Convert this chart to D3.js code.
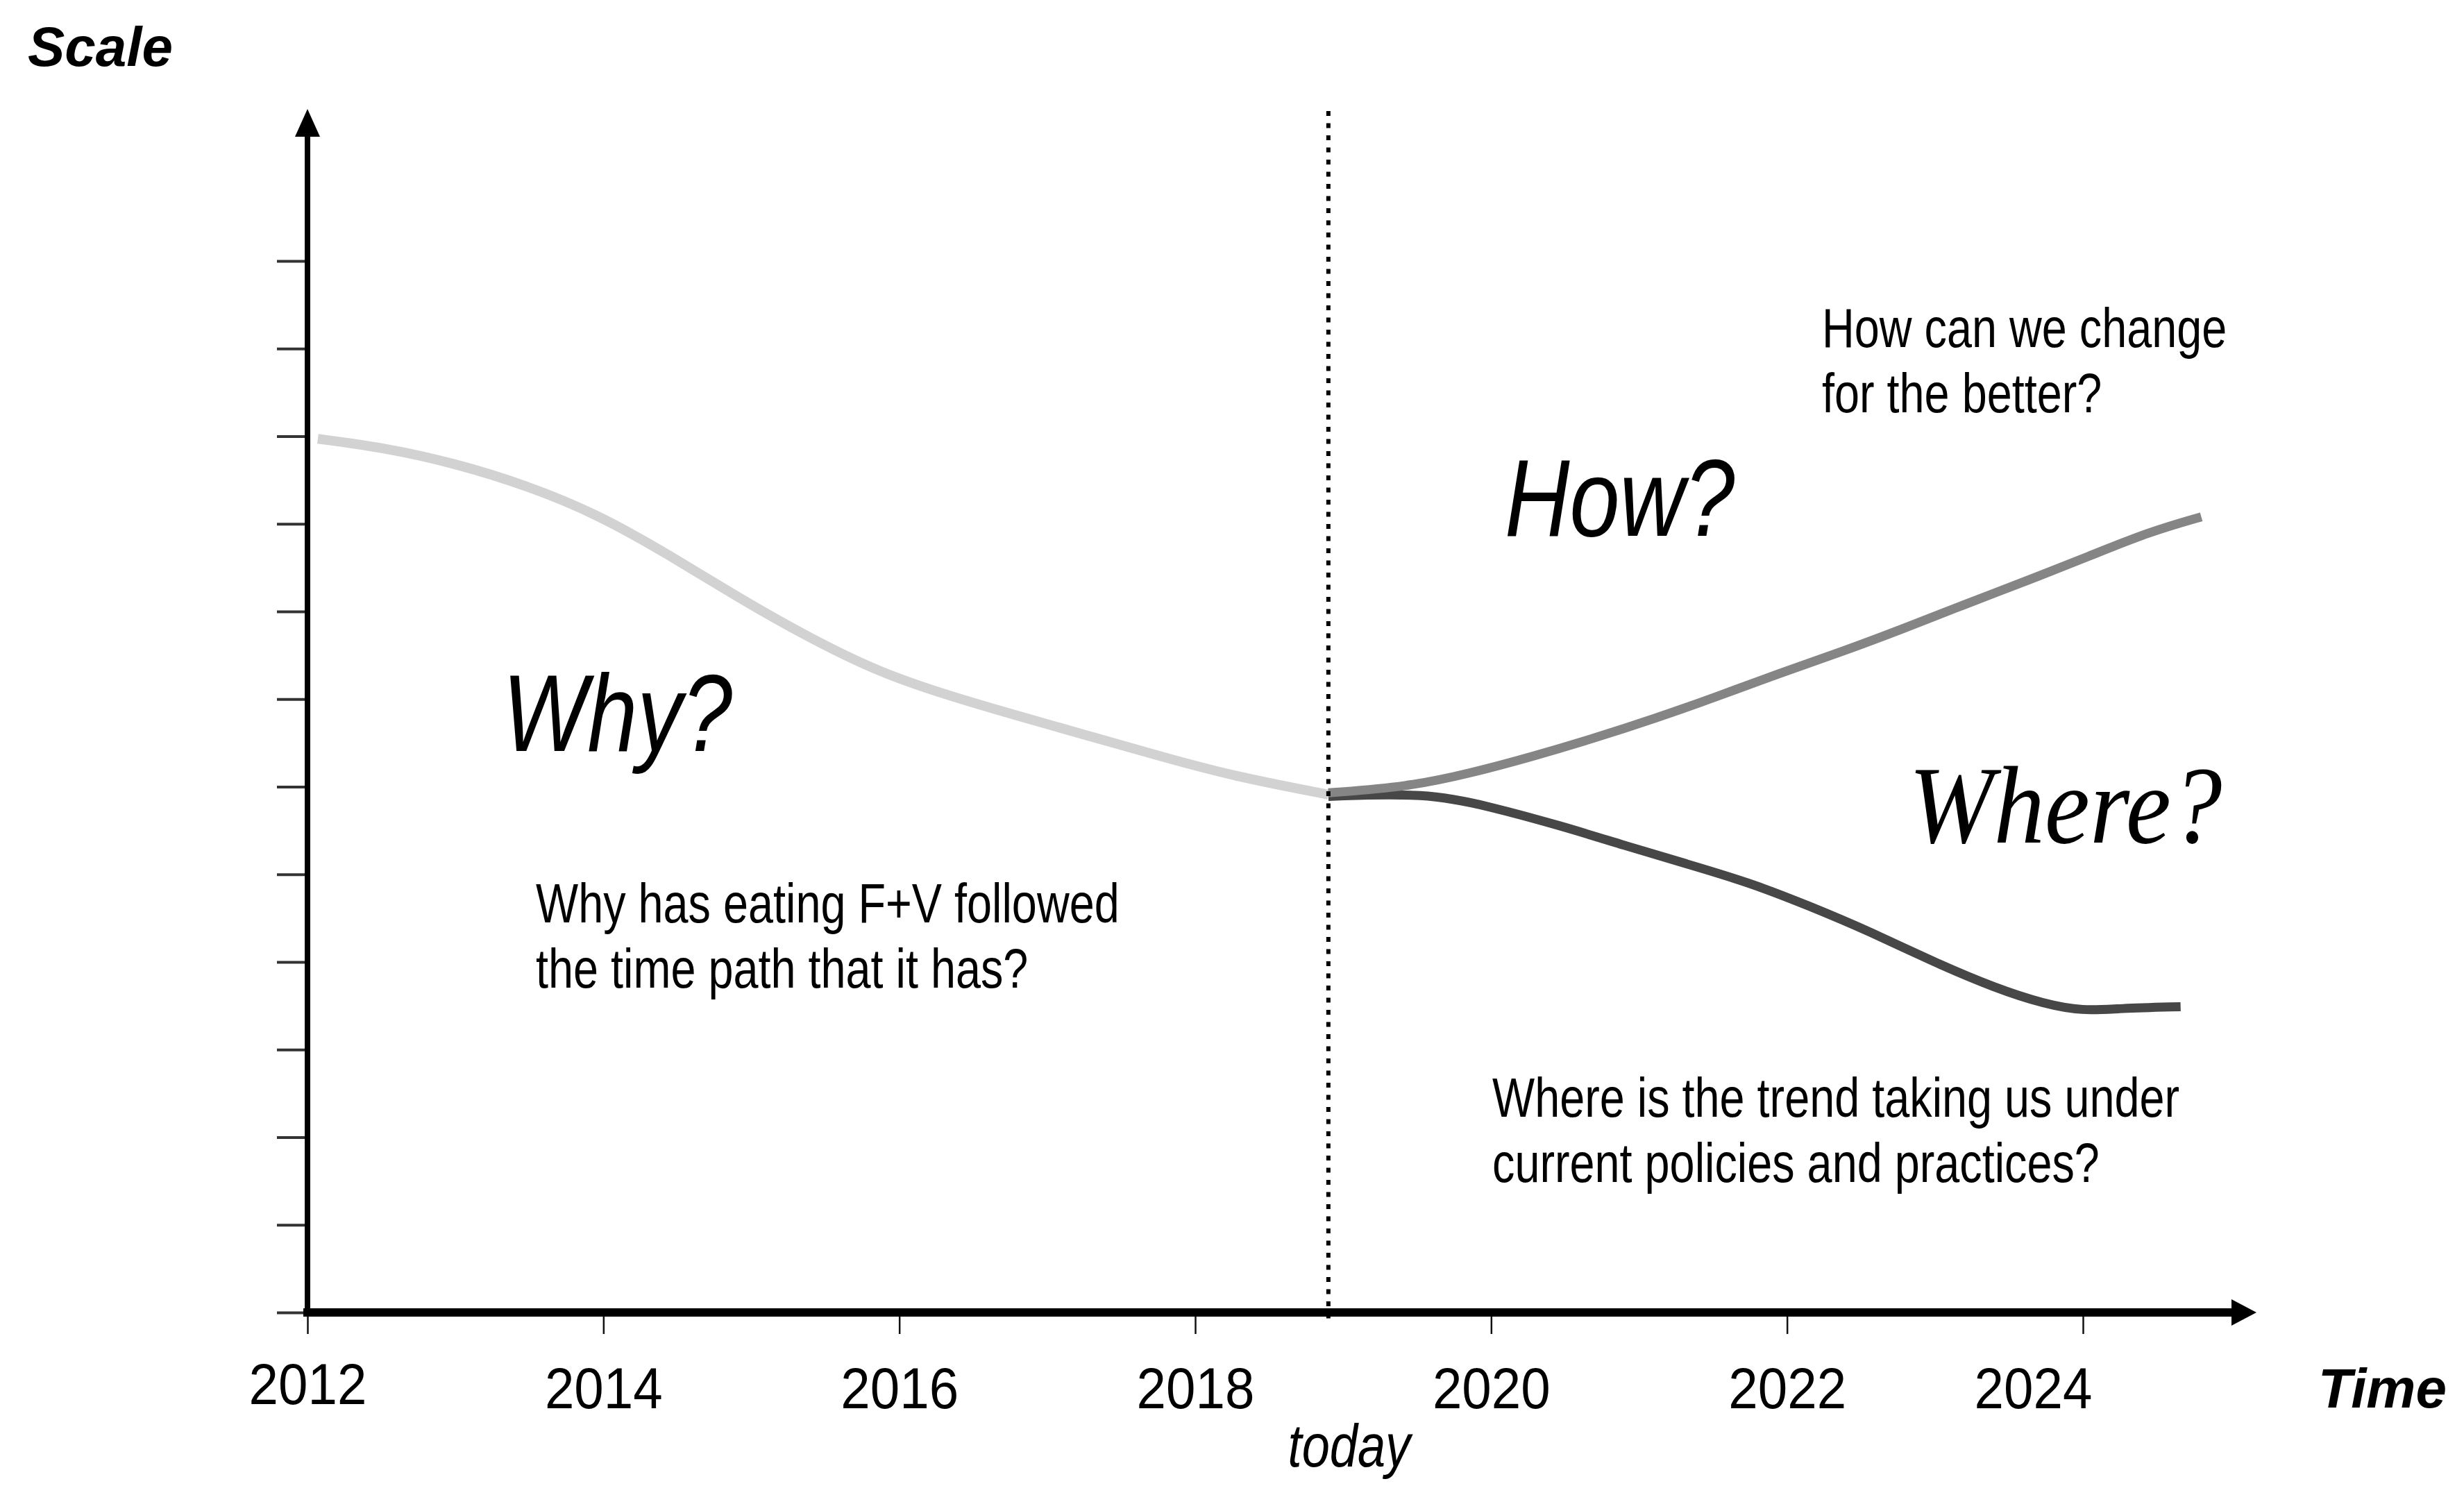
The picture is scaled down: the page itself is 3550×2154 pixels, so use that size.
<!DOCTYPE html>
<html>
<head>
<meta charset="utf-8">
<script src="https://cdn.jsdelivr.net/npm/d3@7"></script>
<style>
  body { margin: 0; background: #fff; }
  text { fill: #000; }
</style>
</head>
<body>
<div id="chart"></div>
<script>
// years shown under the time axis
const tickYears = [2012, 2014, 2016, 2018, 2020, 2022, 2024]
const today = 2018.9

// past path up to today (Why?)
const pastYears  = [2012.07, 2012.52, 2013.0, 2013.48, 2013.96, 2014.44, 2014.91, 2015.39, 2015.87, 2016.35, 2016.82, 2017.3, 2017.78, 2018.26, 2018.9]
const pastValues = [9.97, 9.87, 9.69, 9.44, 9.11, 8.65, 8.16, 7.7, 7.3, 7.03, 6.8, 6.57, 6.34, 6.12, 5.91]

// better future (How?)
const betterYears  = [2018.9, 2019.44, 2019.85, 2020.27, 2020.69, 2021.11, 2021.53, 2021.94, 2022.37, 2022.78, 2023.2, 2023.62, 2024.04, 2024.45, 2024.8]
const betterValues = [5.93, 6.0, 6.15, 6.34, 6.55, 6.78, 7.03, 7.29, 7.54, 7.8, 8.08, 8.35, 8.63, 8.91, 9.08]

// current trend (Where?)
const trendYears  = [2018.9, 2019.56, 2019.98, 2020.48, 2020.9, 2021.32, 2021.74, 2022.15, 2022.57, 2022.99, 2023.41, 2023.74, 2024.0, 2024.24, 2024.66]
const trendValues = [5.89, 5.93, 5.78, 5.55, 5.33, 5.12, 4.91, 4.64, 4.34, 4.0, 3.7, 3.52, 3.44, 3.47, 3.49]

const scaleTicks = d3.range(0, 13)

const width = 3550, height = 2154
const sans = "'Liberation Sans', Arial, sans-serif"
const squeeze = 0.82   // the original uses a narrow grotesque

const x = d3.scaleLinear().domain([2012, 2024]).range([443, 3001])
const y = d3.scaleLinear().domain([0, 12]).range([1891, 376])

const svg = d3.select('#chart')
    .append('svg')
    .attr('width', width)
    .attr('height', height)

svg.append('rect').attr('width', width).attr('height', height).attr('fill', '#fff')

// narrow text helper: place at (tx, ty) then squeeze horizontally
function narrowText(tx, ty, str, size, opts = {}) {
    return svg.append('text')
        .attr('transform', `translate(${tx},${ty}) scale(${opts.sx || squeeze},1)`)
        .attr('font-family', opts.family || sans)
        .attr('font-style', opts.style || 'normal')
        .attr('text-anchor', opts.anchor || 'start')
        .attr('font-size', size)
        .text(str)
}

// y ticks (no labels)
const yAxis = svg.append('g')
    .attr('transform', `translate(${x(2012)},0)`)
    .call(d3.axisLeft(y).tickValues(scaleTicks).tickSize(44).tickFormat(''))
yAxis.select('.domain').remove()
yAxis.selectAll('.tick line').attr('stroke', '#333').attr('stroke-width', 4)

// x ticks + year labels
const labelNudge = { 2012: [0, -6], 2024: [-72, 0] }
const xAxis = svg.append('g')
    .attr('transform', `translate(0,${y(0)})`)
    .call(d3.axisBottom(x).tickValues(tickYears).tickSize(31).tickPadding(48).tickFormat(d3.format('d')))
xAxis.select('.domain').remove()
xAxis.selectAll('.tick line').attr('stroke', '#111').attr('stroke-width', 2.5)
xAxis.selectAll('.tick text')
    .attr('font-family', sans)
    .attr('font-size', 83)
    .attr('fill', '#000')
    .attr('transform', d => {
        const n = labelNudge[d] || [0, 0]
        return `translate(${n[0]},${n[1]}) scale(0.92,1)`
    })

// axis lines with arrow heads
const x0 = x(2012), y0 = y(0)
const yTip = 157, xTip = 3251
svg.append('line')
    .attr('x1', x0).attr('x2', x0)
    .attr('y1', y0 + 6).attr('y2', yTip + 30)
    .attr('stroke', '#000').attr('stroke-width', 8)
svg.append('path')
    .attr('d', `M${x0},${yTip} L${x0 - 18},${yTip + 40} L${x0 + 18},${yTip + 40} Z`)
    .attr('fill', '#000')
svg.append('line')
    .attr('x1', x0 - 6).attr('x2', xTip - 30)
    .attr('y1', y0).attr('y2', y0)
    .attr('stroke', '#000').attr('stroke-width', 12)
svg.append('path')
    .attr('d', `M${xTip},${y0} L${xTip - 36},${y0 - 19} L${xTip - 36},${y0 + 19} Z`)
    .attr('fill', '#000')

// curves
const line = d3.line()
    .x(d => x(d[0]))
    .y(d => y(d[1]))
    .curve(d3.curveBasis)

const series = [
    { years: pastYears, values: pastValues, color: '#d2d2d2', w: 14 },
    { years: trendYears, values: trendValues, color: '#474747', w: 13 },
    { years: betterYears, values: betterValues, color: '#858585', w: 13 },
]

svg.append('g')
    .selectAll('path')
    .data(series)
    .join('path')
    .attr('d', s => line(d3.zip(s.years, s.values)))
    .attr('fill', 'none')
    .attr('stroke', s => s.color)
    .attr('stroke-width', s => s.w)
    .attr('stroke-linecap', 'butt')

// today marker
svg.append('line')
    .attr('x1', x(today)).attr('x2', x(today))
    .attr('y1', 160).attr('y2', y0 + 14)
    .attr('stroke', '#000')
    .attr('stroke-width', 6)
    .attr('stroke-dasharray', '7 10.5')

narrowText(x(today) + 30, 2113, 'today', 88, { style: 'italic', anchor: 'middle' })

// axis titles
svg.append('text')
    .attr('x', 40).attr('y', 95)
    .attr('font-family', sans).attr('font-weight', 'bold').attr('font-style', 'italic')
    .attr('font-size', 80)
    .text('Scale')

svg.append('text')
    .attr('x', 3525).attr('y', 2028)
    .attr('text-anchor', 'end')
    .attr('font-family', sans).attr('font-weight', 'bold').attr('font-style', 'italic')
    .attr('font-size', 80)
    .text('Time')

// big questions
narrowText(724, 1082, 'Why?', 158, { style: 'italic' })
narrowText(2168, 772, 'How?', 158, { style: 'italic' })
narrowText(2750, 1214, 'Where?', 158, {
    style: 'italic', sx: 0.93,
    family: "'Liberation Serif', 'Times New Roman', serif"
})

// notes
const notes = [
    { x: 772, y: 1329, lines: ['Why has eating F+V followed', 'the time path that it has?'] },
    { x: 2625, y: 500, lines: ['How can we change', 'for the better?'] },
    { x: 2150, y: 1609, lines: ['Where is the trend taking us under', 'current policies and practices?'] },
]

svg.append('g')
    .selectAll('text')
    .data(notes)
    .join('text')
    .attr('font-family', sans)
    .attr('font-size', 79)
    .attr('transform', d => `translate(${d.x},${d.y}) scale(${squeeze},1)`)
    .selectAll('tspan')
    .data(d => d.lines)
    .join('tspan')
    .attr('x', 0)
    .attr('dy', (d, i) => i ? 94 : 0)
    .text(d => d)
</script>
</body>
</html>
